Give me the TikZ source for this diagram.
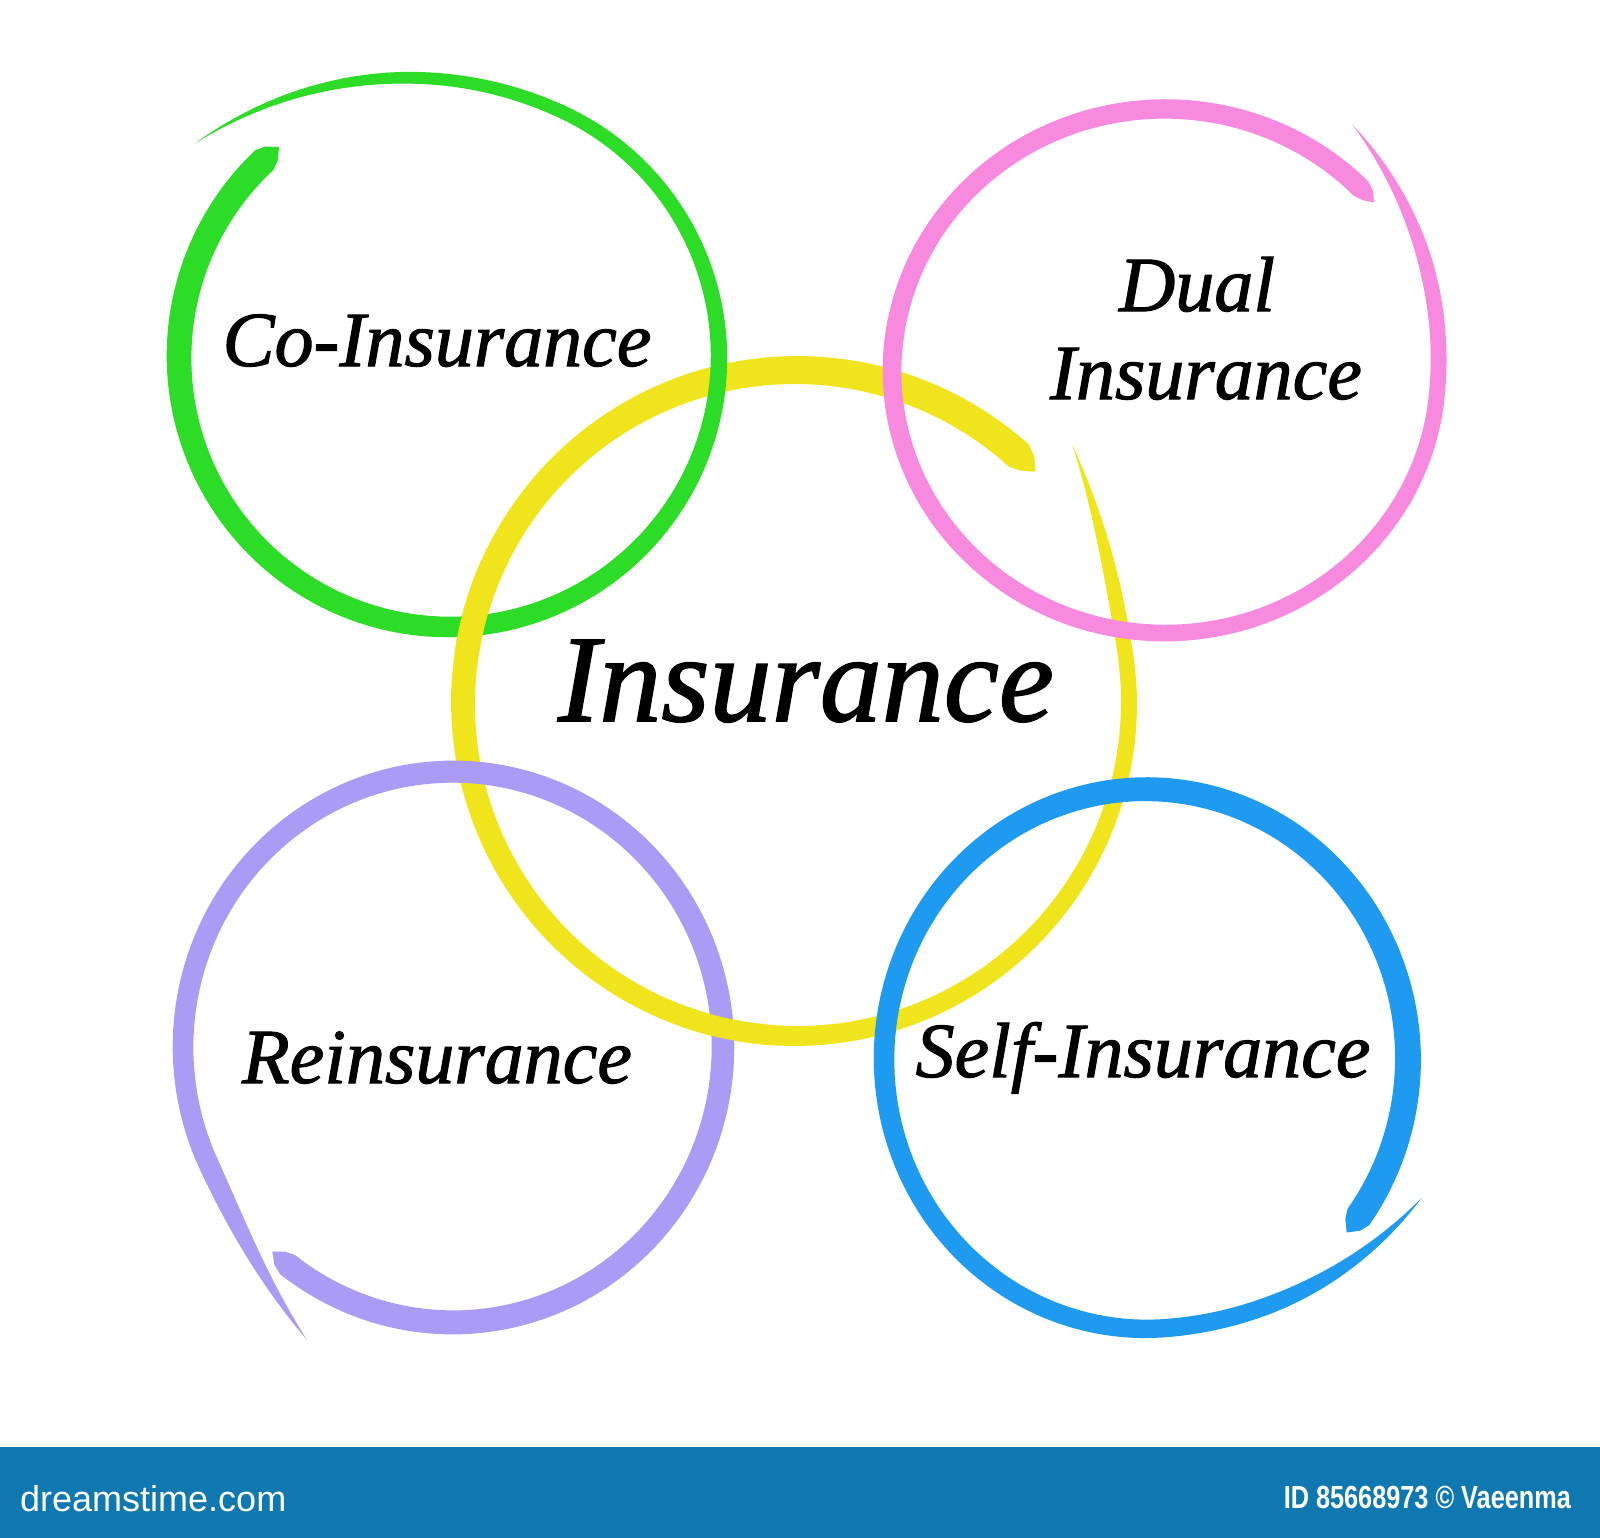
\documentclass[tikz,border=0pt]{standalone}
\usepackage{fontspec}
\setmainfont{Liberation Serif}
\newfontfamily\lblfont{Liberation Serif Italic}[FakeBold=1.3]
\newfontfamily\barfont{Liberation Sans}
\usetikzlibrary{positioning}

\definecolor{cgreen}{HTML}{2DDC26}
\definecolor{cpink}{HTML}{F78ADF}
\definecolor{cyellow}{HTML}{F0E41C}
\definecolor{cpurple}{HTML}{AA9BF5}
\definecolor{cblue}{HTML}{1E9BF0}
\definecolor{cbar}{HTML}{1078B0}

% keys of one brush ring
\pgfkeys{/brush/.is family,/brush,
  R/.store in=\bR, from/.store in=\bS, to/.store in=\bE,
  lift/.store in=\bD, span/.store in=\bL,
  w1/.store in=\bWa, w2/.store in=\bWb,
  tin/.store in=\bTs, tout/.store in=\bTe, sq/.store in=\bQ}

\newcommand\brush[3]{%
  \begingroup
  \pgfkeys{/brush,sq=1,tout=3,#3}%
  \fill[#1,shift={#2}]
    plot[domain=\bS:\bE,samples=180,variable=\t]
      ({(brr(\t)+brw(\t)/2)*cos(\t)},{\bQ*(brr(\t)+brw(\t)/2)*sin(\t)})
    -- plot[domain=\bE:\bS,samples=180,variable=\t]
      ({(brr(\t)-brw(\t)/2)*cos(\t)},{\bQ*(brr(\t)-brw(\t)/2)*sin(\t)})
    -- cycle;
  \endgroup}
\newcommand\yring{\brush{cyellow}{(796,703)}{R=333,from=317,to=676,lift=45,span=34,w1=14,w2=30,tin=28}}

\begin{document}
\begin{tikzpicture}[x=1pt,y=-1pt,
  declare function={
    brr(\t)=\bR+\bD*max(0,1-(\t-\bS)/\bL)^2;
    brw(\t)=(\bWa+(\bWb-\bWa)*(\t-\bS)/(\bE-\bS))*(1-(1-min(1,(\t-\bS)/\bTs))^2)*min(1,(\bE-\t)/\bTe);
  },
  lbl/.style={inner sep=0pt,anchor=base,font=\lblfont\fontsize{78}{78}\selectfont},
  big/.style={inner sep=0pt,anchor=base,font=\lblfont\fontsize{124}{124}\selectfont}]
\useasboundingbox (0,0) rectangle (1600,1538);
\fill[white] (0,0) rectangle (1600,1538);

% rings, yellow first
\yring
\brush{cgreen}{(449,357)}{R=270,from=220,to=591,lift=62,span=75,w1=10,w2=27,tin=45}
\brush{cpink}{(1165,371)}{R=273,from=306,to=680,lift=45,span=60,w1=15,w2=21,tin=40,sq=0.96}
\brush{cpurple}{(453,1047)}{R=270,from=117,to=492,lift=52,span=38,w1=20,w2=24,tin=40,sq=1.02}
\brush{cblue}{(1146,1059)}{R=262,from=26,to=400,lift=45,span=60,w1=16,w2=27,tin=40,sq=1.03}

% yellow back on top where it crosses over
\begin{scope}
  \clip (420,560) rectangle (520,650);
  \yring
\end{scope}
\begin{scope}
  \clip (680,960) rectangle (770,1070);
  \yring
\end{scope}

% labels
\node[lbl] (coins) at (437,366) {Co-Insurance};
\node[lbl] (dual) at (1197,311) {Dual};
\node[lbl] (dualins) at (1206,399) {Insurance};
\node[big] (ins) at (806,721) {Insurance};
\node[lbl] (reins) at (437,1083) {Reinsurance};
\node[lbl] (selfins) at (1143,1077) {Self-Insurance};

% bottom bar
\fill[cbar] (0,1447) rectangle (1600,1538);
\node[white,inner sep=0pt,anchor=base west,font=\barfont\fontsize{36}{36}\selectfont]
  (site) at (20,1511) {dreamstime.com};
\node[white,inner sep=0pt,anchor=base east,font=\barfont\bfseries\fontsize{32}{32}\selectfont,xscale=0.79]
  (credit) at (1571,1508) {ID 85668973 © Vaeenma};
\end{tikzpicture}
\end{document}
